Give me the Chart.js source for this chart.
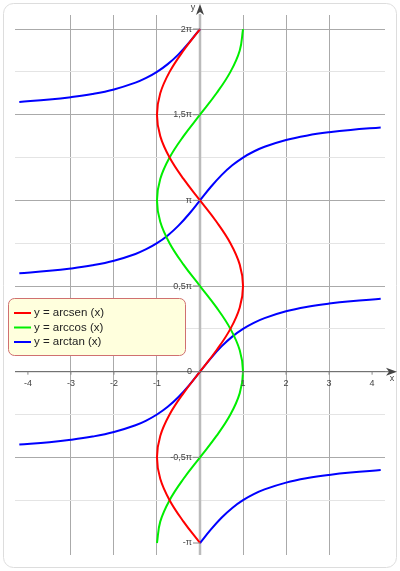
<!DOCTYPE html>
<html>
<head>
<meta charset="utf-8">
<script src="https://cdn.jsdelivr.net/npm/chart.js@4"></script>
<style>
  body { margin: 0; background: #fff; }
  canvas { display: block; }
</style>
</head>
<body>
<canvas id="chart" width="400" height="571"></canvas>
<script>
// y levels in units of pi, shared by the sine/cosine-like curves
const yLevels = [-1, -0.875, -0.75, -0.625, -0.5, -0.375, -0.25, -0.125, 0, 0.125, 0.25, 0.375, 0.5,
                 0.625, 0.75, 0.875, 1, 1.125, 1.25, 1.375, 1.5, 1.625, 1.75, 1.875, 2];
const arcsenX = [0, -0.383, -0.707, -0.924, -1, -0.924, -0.707, -0.383, 0, 0.383, 0.707, 0.924, 1,
                 0.924, 0.707, 0.383, 0, -0.383, -0.707, -0.924, -1, -0.924, -0.707, -0.383, 0];
const arccosX = [-1, -0.924, -0.707, -0.383, 0, 0.383, 0.707, 0.924, 1, 0.924, 0.707, 0.383, 0,
                 -0.383, -0.707, -0.924, -1, -0.924, -0.707, -0.383, 0, 0.383, 0.707, 0.924, 1];
// arctan branch (y in units of pi)
const tanX = [-4.2, -3.5, -3, -2.5, -2, -1.5, -1.25, -1, -0.75, -0.5, -0.25, 0,
              0.25, 0.5, 0.75, 1, 1.25, 1.5, 2, 2.5, 3, 3.5, 4.2];
const tanY = [-0.4255, -0.4114, -0.3976, -0.3789, -0.3524, -0.3128, -0.2852, -0.25, -0.2048, -0.1476, -0.078, 0,
              0.078, 0.1476, 0.2048, 0.25, 0.2852, 0.3128, 0.3524, 0.3789, 0.3976, 0.4114, 0.4255];

const xTicks = [-4, -3, -2, -1, 1, 2, 3, 4];
const yTickVals = [2, 1.5, 1, 0.5, 0, -0.5, -1];
const yTickLabels = ['2π', '1,5π', 'π', '0,5π', '0', '-0,5π', '-π'];
const legendLabels = ['y = arcsen (x)', 'y = arccos (x)', 'y = arctan (x)'];
const colors = ['#ff0000', '#00ee00', '#0000ff'];

const curve = (xs, ys) => xs.map((x, i) => ({ x: x, y: ys[i] }));
const tanBranch = (k, from, to) =>
    tanX.slice(from, to).map((x, i) => ({ x: x, y: tanY[from + i] + k }));
const mid = tanX.indexOf(0);

const lineDs = (data, color) => ({
    data: data, borderColor: color, borderWidth: 2, pointRadius: 0,
    tension: 0.4, fill: false
});

const decor = {
    id: 'decor',
    beforeDraw(chart) {
        const c = chart.ctx;
        c.save();
        c.fillStyle = '#fff';
        c.strokeStyle = '#ddd';
        c.lineWidth = 1;
        c.beginPath();
        c.roundRect(3.5, 3.5, 393, 564, 10);
        c.fill();
        c.stroke();
        c.restore();
    },
    beforeDatasetsDraw(chart) {
        const c = chart.ctx;
        const xs = chart.scales.x, ys = chart.scales.y;
        const x0 = xs.getPixelForValue(0), y0 = ys.getPixelForValue(0);
        c.save();
        c.strokeStyle = '#bbb';
        c.lineWidth = 2.5;
        c.beginPath();
        c.moveTo(x0, 555); c.lineTo(x0, 14);
        c.stroke();
        c.restore();
    },
    afterDatasetsDraw(chart) {
        const c = chart.ctx;
        const xs = chart.scales.x, ys = chart.scales.y;
        const x0 = xs.getPixelForValue(0), y0 = ys.getPixelForValue(0);
        c.save();
        c.strokeStyle = '#666';
        c.lineWidth = 1;
        c.beginPath();
        c.moveTo(15, y0); c.lineTo(390, y0);
        c.stroke();
        c.fillStyle = '#444';
        c.beginPath();
        c.moveTo(397, y0); c.lineTo(386, y0 - 4); c.lineTo(389, y0); c.lineTo(386, y0 + 4); c.fill();
        c.beginPath();
        c.moveTo(x0, 4); c.lineTo(x0 - 4, 15); c.lineTo(x0, 12); c.lineTo(x0 + 4, 15); c.fill();
        c.font = '9px "Liberation Sans", Arial, sans-serif';
        c.fillStyle = '#444';
        c.textAlign = 'center';
        c.fillText('y', x0 - 7, 10);
        c.fillText('x', 392, 381);
        c.textBaseline = 'top';
        c.strokeStyle = '#888';
        xTicks.forEach(v => {
            const px = xs.getPixelForValue(v);
            c.beginPath(); c.moveTo(px, y0); c.lineTo(px, y0 + 3); c.stroke();
            c.fillText(String(v), px, y0 + 7);
        });
        c.textAlign = 'right';
        c.textBaseline = 'middle';
        yTickVals.forEach((v, i) => {
            const py = ys.getPixelForValue(v);
            c.beginPath(); c.moveTo(x0 - 7, py); c.lineTo(x0, py); c.stroke();
            c.fillText(yTickLabels[i], x0 - 8, py);
        });
        // legend box
        c.fillStyle = '#ffffdd';
        c.strokeStyle = '#d07070';
        c.beginPath();
        c.roundRect(8.5, 298.5, 177, 57, 6);
        c.fill(); c.stroke();
        c.textAlign = 'left';
        c.font = '11.5px "Liberation Sans", Arial, sans-serif';
        legendLabels.forEach((t, i) => {
            const py = 313 + i * 14.5;
            c.strokeStyle = colors[i];
            c.lineWidth = 2;
            c.beginPath(); c.moveTo(14, py); c.lineTo(31, py); c.stroke();
            c.fillStyle = '#222';
            c.fillText(t, 34, py);
        });
        c.restore();
    }
};

new Chart(document.getElementById('chart'), {
    type: 'line',
    data: {
        datasets: [
            lineDs(curve(arcsenX, yLevels), colors[0]),
            lineDs(curve(arccosX, yLevels), colors[1]),
            lineDs(tanBranch(0, 0, tanX.length), colors[2]),
            lineDs(tanBranch(1, 0, tanX.length), colors[2]),
            lineDs(tanBranch(2, 0, mid + 1), colors[2]),
            lineDs(tanBranch(-1, mid, tanX.length), colors[2])
        ]
    },
    options: {
        responsive: false,
        animation: false,
        layout: { padding: { left: 15, right: 15, top: 15, bottom: 16 } },
        scales: {
            x: {
                type: 'linear', min: -4.3, max: 4.3,
                ticks: { display: false, stepSize: 1 },
                border: { display: false },
                grid: {
                    drawTicks: false,
                    color: ctx => Number.isInteger(ctx.tick.value) ? '#aaa' : 'rgba(0,0,0,0)'
                }
            },
            y: {
                type: 'linear', min: -1.07, max: 2.082,
                ticks: { display: false, stepSize: 0.25 },
                border: { display: false },
                grid: {
                    drawTicks: false,
                    color: ctx => {
                        const v = ctx.tick.value;
                        if (Math.abs(v * 2 - Math.round(v * 2)) < 1e-6) return '#aaa';
                        if (Math.abs(v * 4 - Math.round(v * 4)) < 1e-6) return '#e4e4e4';
                        return 'rgba(0,0,0,0)';
                    }
                }
            }
        },
        plugins: { legend: { display: false }, tooltip: { enabled: false } }
    },
    plugins: [decor]
});
</script>
</body>
</html>
